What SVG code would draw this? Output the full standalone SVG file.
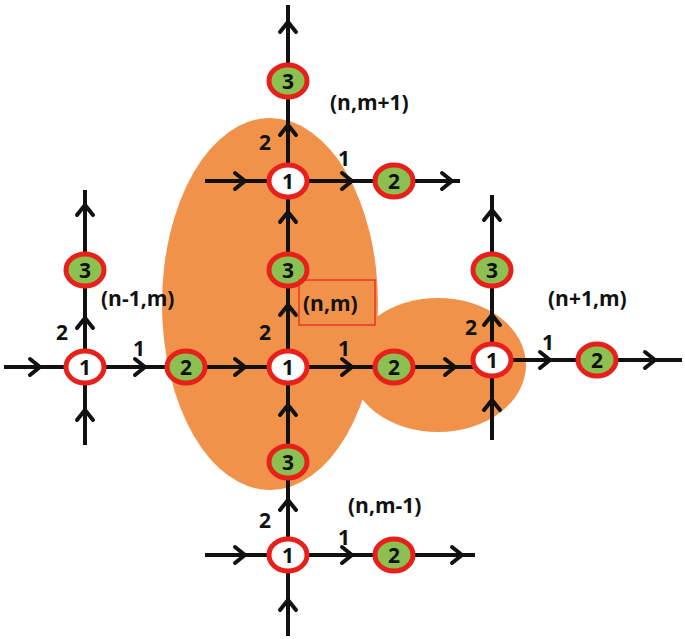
<svg xmlns="http://www.w3.org/2000/svg" width="685" height="639" viewBox="0 0 685 639">
<style>
.l{stroke:#111;stroke-width:4;fill:none}
.a{stroke:#111;stroke-width:4;fill:none;stroke-linecap:round;stroke-linejoin:round}
.n1{fill:#fff;stroke:#e8201c;stroke-width:5}
.n2{fill:#8cc152;stroke:#e8201c;stroke-width:5}
text{font-family:"Open Sans","Liberation Sans",Arial,sans-serif;font-weight:bold;fill:#111}
.nt{font-size:21px;text-anchor:middle}
.lb{font-size:21px}
.tl{font-size:21px}
</style>
<defs>
<path id="ar" class="a" d="M-10,-8 L0,0 L-10,8"/>
<path id="au" class="a" d="M-8,10 L0,0 L8,10"/>
</defs>
<g id="blobs" fill="#f0924a">
<ellipse cx="270" cy="304" rx="108" ry="186"/>
<ellipse cx="438" cy="365" rx="88" ry="67"/>
</g>
<g id="connectors">
<line class="l" x1="288" y1="5" x2="288" y2="636"/>
<line class="l" x1="4" y1="367" x2="480" y2="367"/>
<line class="l" x1="480" y1="367" x2="492" y2="360"/>
<line class="l" x1="492" y1="360" x2="682" y2="360"/>
<line class="l" x1="492" y1="195" x2="492" y2="440"/>
<line class="l" x1="85" y1="190" x2="85" y2="445"/>
<line class="l" x1="205" y1="181" x2="460" y2="181"/>
<line class="l" x1="205" y1="555" x2="475" y2="555"/>
<use href="#au" x="288" y="22"/><use href="#au" x="288" y="125"/><use href="#au" x="288" y="212"/><use href="#au" x="288" y="305"/><use href="#au" x="288" y="405"/><use href="#au" x="288" y="500"/><use href="#au" x="288" y="600"/>
<use href="#au" x="85" y="205"/><use href="#au" x="85" y="318"/><use href="#au" x="85" y="410"/>
<use href="#au" x="492" y="210"/><use href="#au" x="492" y="315"/><use href="#au" x="492" y="400"/>
<use href="#ar" x="40" y="367"/><use href="#ar" x="145" y="367"/><use href="#ar" x="245" y="367"/><use href="#ar" x="352" y="367"/><use href="#ar" x="455" y="367"/>
<use href="#ar" x="550" y="360"/><use href="#ar" x="655" y="360"/>
<use href="#ar" x="245" y="181"/><use href="#ar" x="352" y="181"/><use href="#ar" x="452" y="181"/>
<use href="#ar" x="245" y="555"/><use href="#ar" x="352" y="555"/><use href="#ar" x="462" y="555"/>
</g>
<g id="node-nm1-1"><ellipse class="n1" cx="288" cy="181" rx="19" ry="16"/><text class="nt" x="288" y="189">1</text></g>
<g id="node-nm1-2"><ellipse class="n2" cx="394" cy="181" rx="19" ry="16"/><text class="nt" x="394" y="189">2</text></g>
<g id="node-nm1-3"><ellipse class="n2" cx="288" cy="81" rx="19" ry="16"/><text class="nt" x="288" y="89">3</text></g>
<g id="node-nm-1"><ellipse class="n1" cx="288" cy="367" rx="19" ry="16"/><text class="nt" x="288" y="375">1</text></g>
<g id="node-nm-2"><ellipse class="n2" cx="394" cy="367" rx="19" ry="16"/><text class="nt" x="394" y="375">2</text></g>
<g id="node-nm-3"><ellipse class="n2" cx="288" cy="270" rx="19" ry="16"/><text class="nt" x="288" y="278">3</text></g>
<g id="node-n-1m-1"><ellipse class="n1" cx="85" cy="367" rx="19" ry="16"/><text class="nt" x="85" y="375">1</text></g>
<g id="node-n-1m-2"><ellipse class="n2" cx="186" cy="367" rx="19" ry="16"/><text class="nt" x="186" y="375">2</text></g>
<g id="node-n-1m-3"><ellipse class="n2" cx="85" cy="270" rx="19" ry="16"/><text class="nt" x="85" y="278">3</text></g>
<g id="node-n1m-1"><ellipse class="n1" cx="492" cy="360" rx="19" ry="16"/><text class="nt" x="492" y="368">1</text></g>
<g id="node-n1m-2"><ellipse class="n2" cx="597" cy="360" rx="19" ry="16"/><text class="nt" x="597" y="368">2</text></g>
<g id="node-n1m-3"><ellipse class="n2" cx="492" cy="270" rx="19" ry="16"/><text class="nt" x="492" y="278">3</text></g>
<g id="node-nm-1b-1"><ellipse class="n1" cx="288" cy="555" rx="19" ry="16"/><text class="nt" x="288" y="563">1</text></g>
<g id="node-nm-1b-2"><ellipse class="n2" cx="394" cy="555" rx="19" ry="16"/><text class="nt" x="394" y="563">2</text></g>
<g id="node-nm-1b-3"><ellipse class="n2" cx="288" cy="462" rx="19" ry="16"/><text class="nt" x="288" y="470">3</text></g>
<g id="labels">
<text class="lb" x="259" y="150">2</text><text class="lb" x="338" y="166">1</text>
<text class="lb" x="259" y="340">2</text><text class="lb" x="338" y="356">1</text>
<text class="lb" x="56" y="340">2</text><text class="lb" x="133" y="356">1</text>
<text class="lb" x="465" y="335">2</text><text class="lb" x="542" y="350">1</text>
<text class="lb" x="259" y="528">2</text><text class="lb" x="338" y="545">1</text>
<text class="tl" x="330" y="110">(n,m+1)</text>
<text class="tl" x="101" y="306">(n-1,m)</text>
<text class="tl" x="303" y="311">(n,m)</text>
<text class="tl" x="548" y="306">(n+1,m)</text>
<text class="tl" x="348" y="513">(n,m-1)</text>
<rect x="299" y="280" width="76" height="45" fill="none" stroke="#e8201c" stroke-width="1.2"/>
</g>
</svg>
